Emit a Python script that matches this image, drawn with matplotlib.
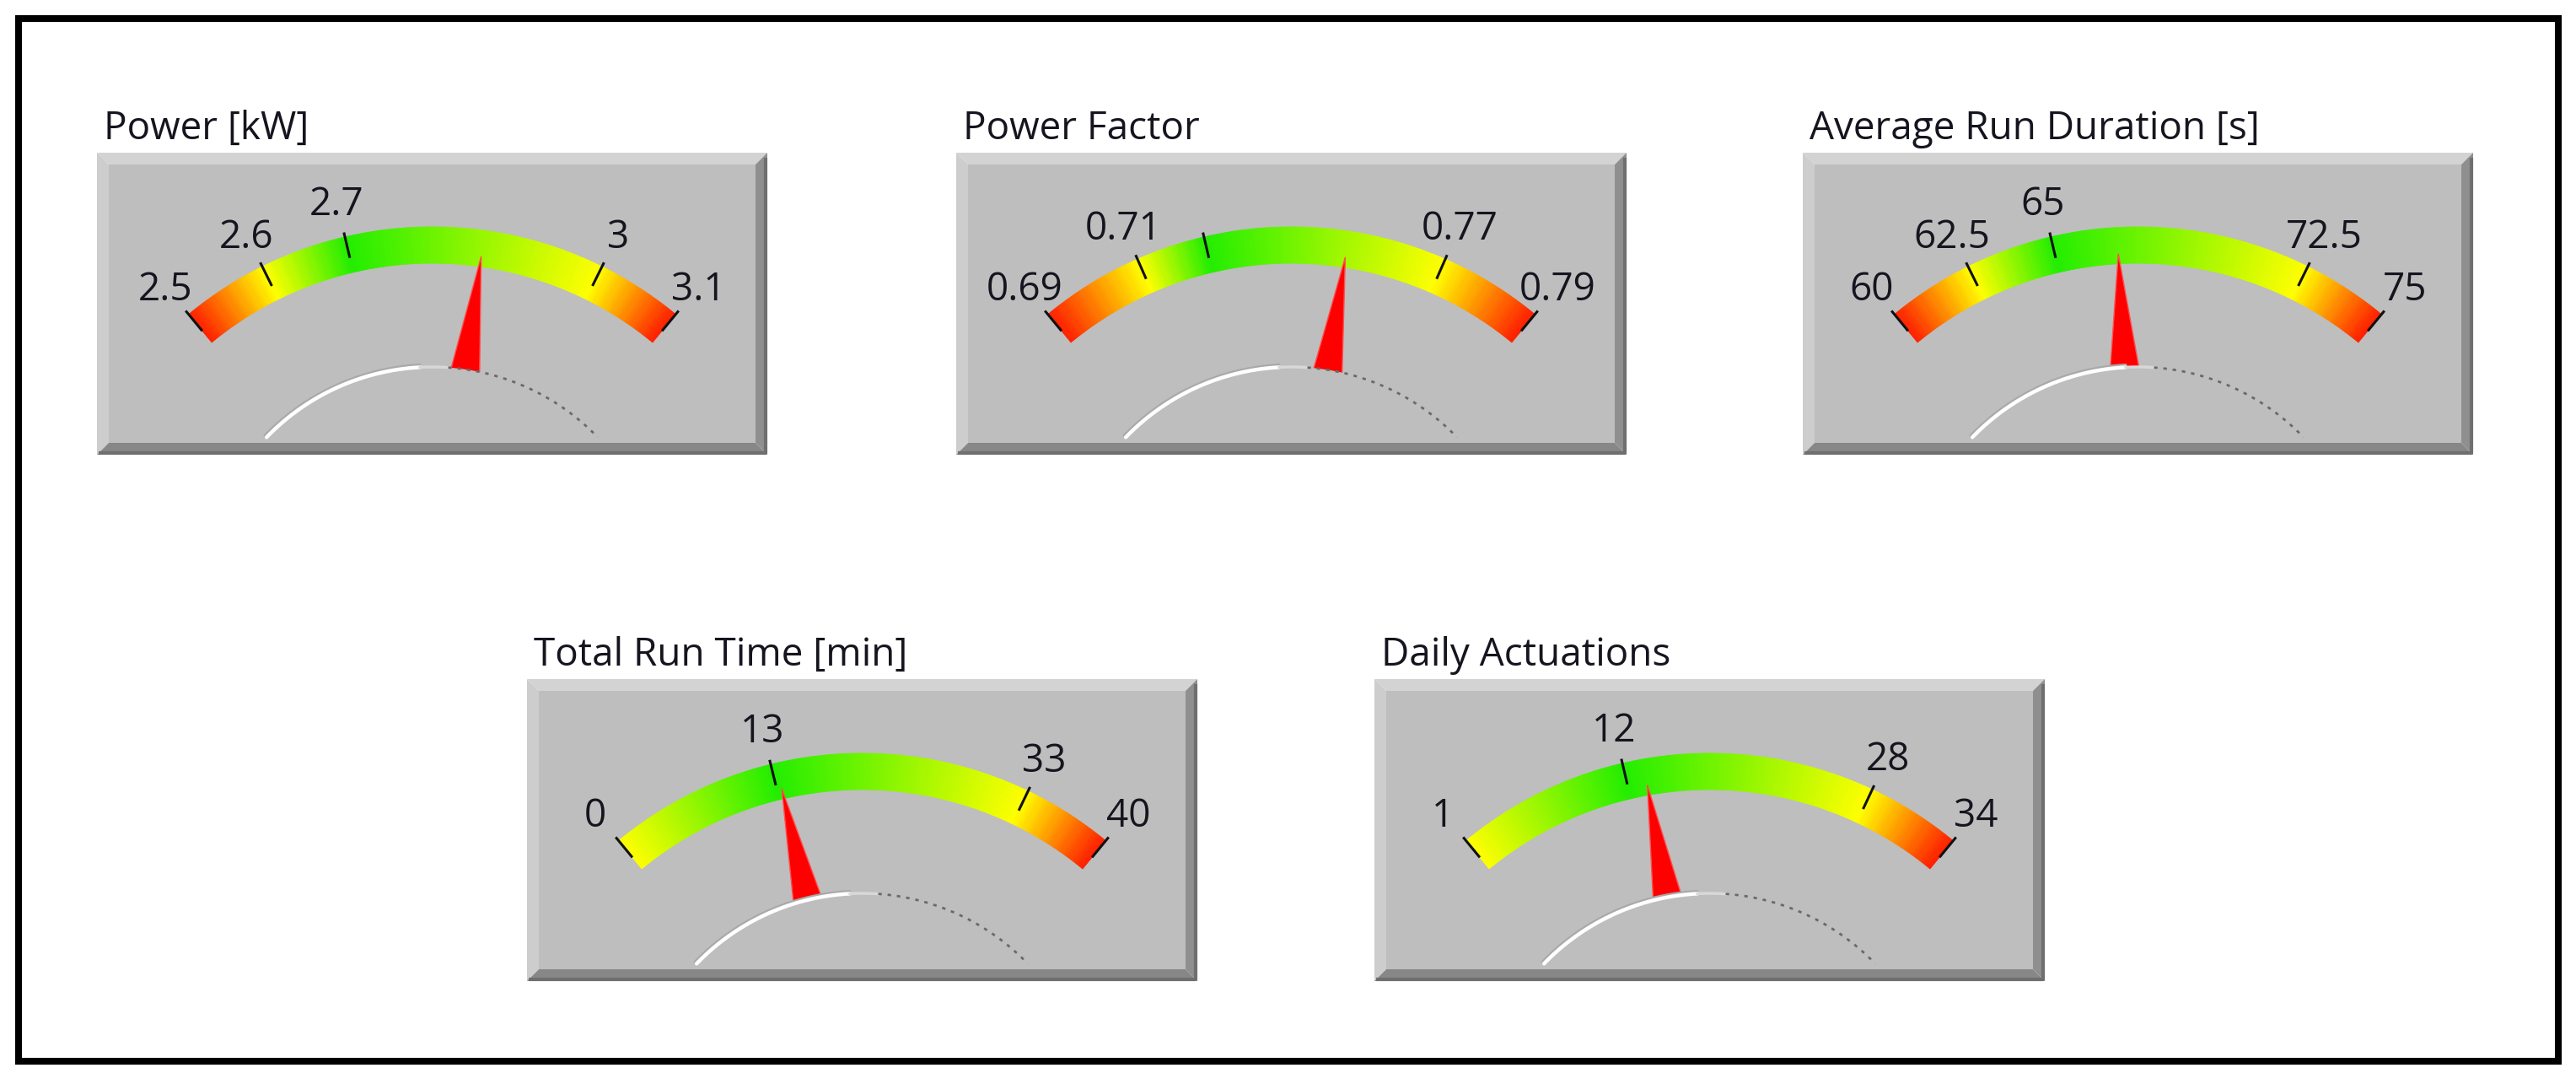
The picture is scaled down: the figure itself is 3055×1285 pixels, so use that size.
import numpy as np
import matplotlib
matplotlib.use("Agg")
import matplotlib.pyplot as plt
from matplotlib.patches import Polygon, Rectangle, Circle
from matplotlib.collections import PolyCollection
from matplotlib.colors import LinearSegmentedColormap, Normalize

plt.rcParams['font.family'] = ['Open Sans', 'DejaVu Sans']

# ------------ data ------------
titles = ["Power [kW]", "Power Factor", "Average Run Duration [s]",
          "Total Run Time [min]", "Daily Actuations"]
scale_min = [2.5, 0.69, 60, 0, 1]
scale_max = [3.1, 0.79, 75, 40, 34]
tick_values = [
    [2.5, 2.6, 2.7, 3.0, 3.1],
    [0.69, 0.71, 0.7233, 0.77, 0.79],
    [60, 62.5, 65, 72.5, 75],
    [0, 13, 33, 40],
    [1, 12, 28, 34],
]
tick_labels = [
    ["2.5", "2.6", "2.7", "3", "3.1"],
    ["0.69", "0.71", "", "0.77", "0.79"],
    ["60", "62.5", "65", "72.5", "75"],
    ["0", "13", "33", "40"],
    ["1", "12", "28", "34"],
]
marker_colors = [
    ["red", "yellow", "green", "yellow", "red"],
    ["red", "yellow", "green", "yellow", "red"],
    ["red", "yellow", "green", "yellow", "red"],
    ["yellow", "green", "yellow", "red"],
    ["yellow", "green", "yellow", "red"],
]
needle_values = [2.86, 0.751, 66.9, 13.4, 13.3]

# ------------ style / layout ------------
ramp = {"red": "#ff2000", "yellow": "#ffff00", "green": "#22ee00"}
FACE = "#bebebe"
TXT = "#15151f"
FS = 33
panel_pos = [(115, 181), (1134, 181), (2138, 181), (625, 805), (1630, 805)]
PW, PH, BEV = 795, 358, 14
SWEEP = 39.5          # degrees each side of vertical
R_IN, R_OUT = 411, 454
PIVOT_DY = 542
HUB_DY, HUB_R = 527, 273

fig = plt.figure(figsize=(30.55, 12.85), dpi=100)
ax = fig.add_axes([0, 0, 1, 1])
ax.set_xlim(0, 3055)
ax.set_ylim(1285, 0)
ax.axis("off")


def polar_pt(cx, cy, r, ang):
    # ang in radians, measured clockwise from straight up (screen y goes down)
    return cx + r * np.sin(ang), cy - r * np.cos(ang)


def draw_panel(x0, y0):
    w, h, b = PW, PH, BEV
    ax.add_patch(Polygon([(x0, y0), (x0 + w, y0), (x0 + w - b, y0 + b), (x0 + b, y0 + b)],
                         closed=True, fc="#d3d3d3", ec="none"))
    ax.add_patch(Polygon([(x0, y0), (x0 + b, y0 + b), (x0 + b, y0 + h - b), (x0, y0 + h)],
                         closed=True, fc="#cdcdcd", ec="none"))
    ax.add_patch(Polygon([(x0 + w, y0), (x0 + w, y0 + h), (x0 + w - b, y0 + h - b), (x0 + w - b, y0 + b)],
                         closed=True, fc="#8f8f8f", ec="none"))
    ax.add_patch(Polygon([(x0, y0 + h), (x0 + w, y0 + h), (x0 + w - b, y0 + h - b), (x0 + b, y0 + h - b)],
                         closed=True, fc="#878787", ec="none"))
    # darker outer rim on right / bottom
    ax.plot([x0 + w - 2, x0 + w - 2, x0 + 2], [y0 + 6, y0 + h - 2, y0 + h - 2],
            color="#6f6f6f", lw=3, solid_capstyle="butt")
    face = Rectangle((x0 + b, y0 + b), w - 2 * b, h - 2 * b, fc=FACE, ec="none")
    ax.add_patch(face)
    return face


def draw_gauge(i):
    x0, y0 = panel_pos[i]
    vmin, vmax = scale_min[i], scale_max[i]
    norm = Normalize(vmin, vmax)
    cx, cy = x0 + PW / 2, y0 + PIVOT_DY

    def ang(v):
        return np.radians(-SWEEP + 2 * SWEEP * norm(v))

    face = draw_panel(x0, y0)
    ax.text(x0 + 8, y0 - 16, titles[i], fontsize=FS, color=TXT, ha="left", va="baseline")

    # colour band
    cmap = LinearSegmentedColormap.from_list(
        "g%d" % i, list(zip(norm(tick_values[i]), [ramp[c] for c in marker_colors[i]])))
    edges = np.linspace(vmin, vmax, 301)
    polys = []
    for a, b in zip(edges[:-1], edges[1:]):
        a1, a2 = ang(a), ang(b)
        polys.append([polar_pt(cx, cy, R_IN, a1), polar_pt(cx, cy, R_OUT, a1),
                      polar_pt(cx, cy, R_OUT, a2), polar_pt(cx, cy, R_IN, a2)])
    band = PolyCollection(polys, cmap=cmap, norm=norm, edgecolors="face", linewidths=0.6, zorder=2)
    band.set_array((edges[:-1] + edges[1:]) / 2)
    ax.add_collection(band)

    # ticks and labels
    for v, lab in zip(tick_values[i], tick_labels[i]):
        t = ang(v)
        p1 = polar_pt(cx, cy, 430, t)
        p2 = polar_pt(cx, cy, 458, t)
        ax.plot([p1[0], p2[0]], [p1[1], p2[1]], color="#111111", lw=2.2, zorder=3)
        if lab:
            lx, ly = polar_pt(cx, cy, 497, t)
            ax.text(lx, ly + 16, lab, fontsize=FS, color=TXT, ha="center", va="baseline")

    # needle
    t = ang(needle_values[i])
    tip = polar_pt(cx, cy, 423, t)
    bl = (cx - 53 * np.cos(t), cy - 53 * np.sin(t))
    br = (cx + 53 * np.cos(t), cy + 53 * np.sin(t))
    needle = Polygon([tip, bl, br], closed=True, fc="#ff0000", ec="#ff5050", lw=1, zorder=4)
    ax.add_patch(needle)
    needle.set_clip_path(face)

    # hub covering the needle base
    hx, hy = cx, y0 + HUB_DY
    hub = Circle((hx, hy), HUB_R, fc=FACE, ec="none", zorder=5)
    ax.add_patch(hub)
    hub.set_clip_path(face)
    a_l = np.radians(np.linspace(-46, -3, 80))
    ax.plot(hx + (HUB_R + 3) * np.sin(a_l), hy - (HUB_R + 3) * np.cos(a_l),
            color="#a9a9a9", lw=2.0, zorder=6, solid_capstyle="round")
    ax.plot(hx + HUB_R * np.sin(a_l), hy - HUB_R * np.cos(a_l),
            color="white", lw=3.2, zorder=6, solid_capstyle="round")
    a_m = np.radians(np.linspace(-3, 4, 10))
    ax.plot(hx + HUB_R * np.sin(a_m), hy - HUB_R * np.cos(a_m),
            color="#d8d8d8", lw=2.5, zorder=6)
    a_r = np.radians(np.linspace(4, 46, 80))
    ax.plot(hx + HUB_R * np.sin(a_r), hy - HUB_R * np.cos(a_r),
            color="#6a6a6a", lw=2.0, ls=(0, (1.5, 2.5)), zorder=6)


for k in range(len(titles)):
    draw_gauge(k)

# outer frame
ax.add_patch(Rectangle((22, 22), 3012, 1236, fill=False, ec="black", lw=5.8, zorder=10))

fig.savefig("out.png", dpi=100, facecolor="white")
